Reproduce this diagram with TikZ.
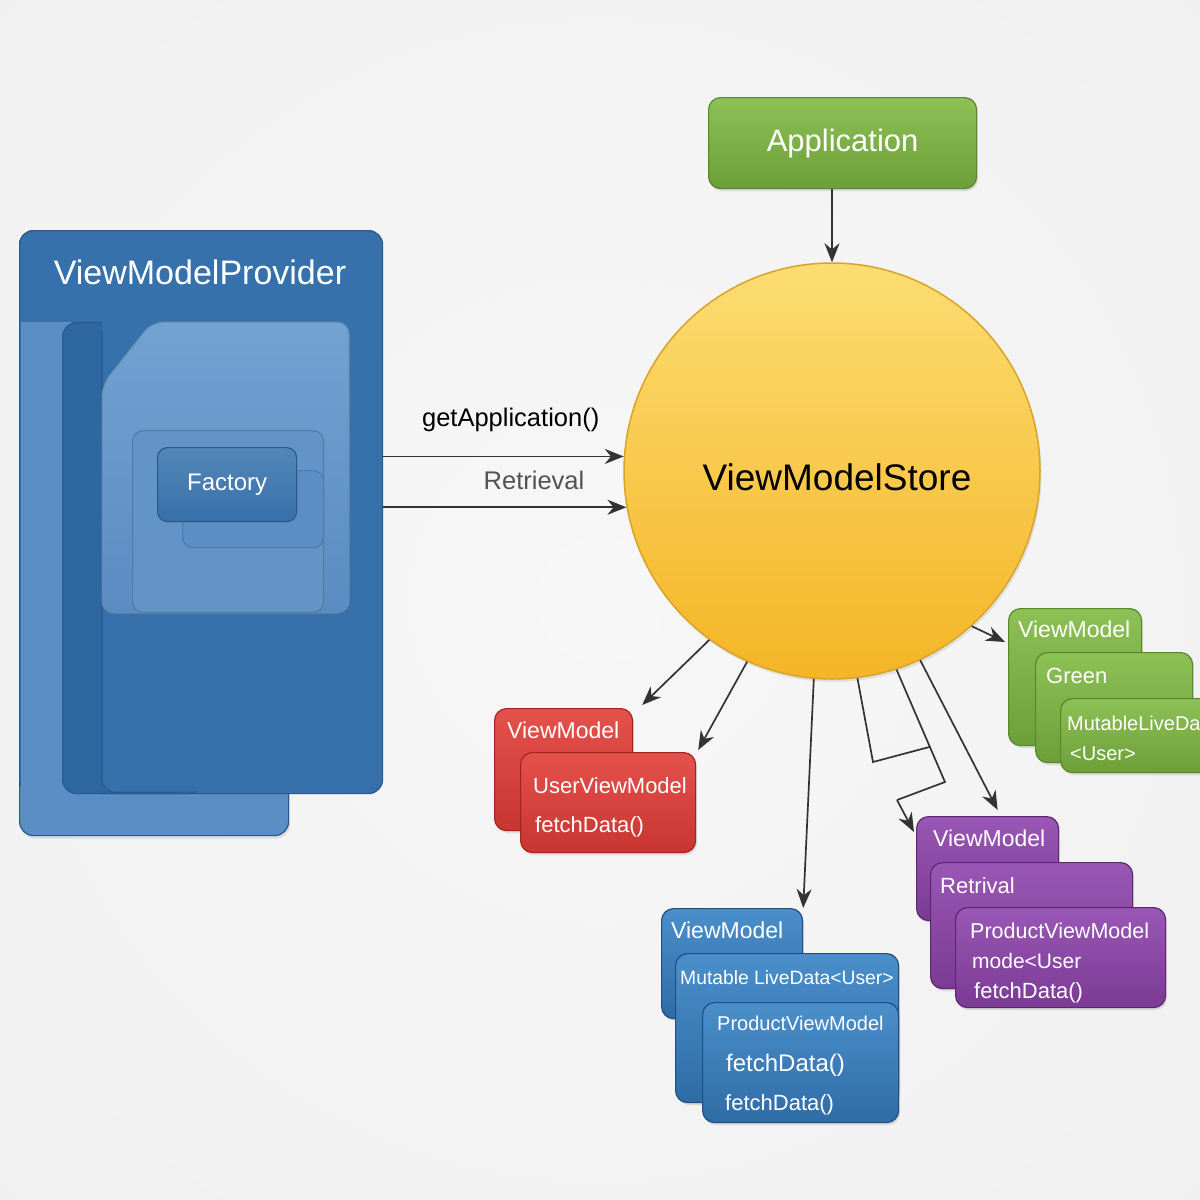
\documentclass[tikz,border=0pt]{standalone}
\usepackage{fontspec}
\setmainfont{Liberation Sans}
\usetikzlibrary{arrows.meta,shadows,calc}

\definecolor{bgin}{HTML}{F7F7F7}
\definecolor{bgout}{HTML}{F0F0F0}
\definecolor{ink}{HTML}{333333}
\definecolor{grntop}{HTML}{8DC156}
\definecolor{grnbot}{HTML}{6C9F38}
\definecolor{grnline}{HTML}{57862C}
\definecolor{yeltop}{HTML}{FCDD72}
\definecolor{yelbot}{HTML}{F4B526}
\definecolor{yelline}{HTML}{D9A32A}
\definecolor{redtop}{HTML}{E4524C}
\definecolor{redbot}{HTML}{C93531}
\definecolor{redline}{HTML}{A3231F}
\definecolor{purtop}{HTML}{9A57B5}
\definecolor{purbot}{HTML}{7B3A94}
\definecolor{purline}{HTML}{5C2671}
\definecolor{blutop}{HTML}{4A8FCB}
\definecolor{blubot}{HTML}{2F6CA6}
\definecolor{bluline}{HTML}{1F4F82}
\definecolor{provdarkc}{HTML}{3671AB}
\definecolor{provmidc}{HTML}{2F67A1}
\definecolor{provlightc}{HTML}{5B8EC4}
\definecolor{provline}{HTML}{28598C}
\definecolor{cardtop}{HTML}{72A2D2}
\definecolor{cardbot}{HTML}{5A8CC2}

\tikzset{
  box/.style={anchor=north west, rounded corners=12pt, line width=1.2pt, inner sep=0pt,
    drop shadow={opacity=0.22, shadow xshift=1.5pt, shadow yshift=-2.5pt}},
  redbox/.style={box, draw=redline, top color=redtop, bottom color=redbot},
  grnbox/.style={box, draw=grnline, top color=grntop, bottom color=grnbot},
  purbox/.style={box, draw=purline, top color=purtop, bottom color=purbot},
  blubox/.style={box, draw=bluline, top color=blutop, bottom color=blubot},
  provbox/.style={anchor=north west, rounded corners=14pt, line width=1.2pt, inner sep=0pt, draw=provline},
  lbl/.style={anchor=base west, inner sep=0pt, text=white, font=\fontsize{22}{26}\selectfont},
  flow/.style={draw=ink, line width=1.7pt, -{Stealth[length=19pt,width=15pt]}},
  wire/.style={draw=ink, line width=1.7pt},
}

\begin{document}
\begin{tikzpicture}[x=1pt,y=-1pt]
\path[use as bounding box] (0,0) rectangle (1200,1200);
\clip (0,0) rectangle (1200,1200);
\fill[inner color=bgin, outer color=bgout] (-300,-300) rectangle (1500,1500);

% ViewModelProvider
\node[provbox, fill=provlightc, minimum width=269pt, minimum height=605pt,
  drop shadow={opacity=0.2, shadow xshift=1.5pt, shadow yshift=-3pt}] (provback) at (19,230) {};
\node[provbox, fill=provdarkc, minimum width=363pt, minimum height=563pt] (prov) at (19,230) {};
\fill[provlightc] (20.6,322) rectangle (100,800);
\node[provbox, fill=provmidc, minimum width=140pt, minimum height=471pt] (provmid) at (62,322) {};
\fill[provdarkc, rounded corners=13pt] (102,300) rectangle (380.4,791.4);
\draw[provline, line width=1.2pt, rounded corners=14pt] (102,330) -- (102,793) -- (180,793);
\draw[provline!70, line width=1pt, top color=cardtop, bottom color=cardbot, rounded corners=12pt]
  (102,613) -- (102,385) -- (152,322) -- (349,322) -- (349,613) -- cycle;
\node[provbox, rounded corners=11pt, draw=provline!80, fill=provlightc!95!white, minimum width=191pt, minimum height=182pt] (provinner) at (132,430) {};
\node[provbox, rounded corners=10pt, draw=provline!80, fill=provlightc, minimum width=141pt, minimum height=77pt] (factback) at (182,470) {};
\node[provbox, rounded corners=10pt, draw=provline, top color=provdarkc!85!white, bottom color=provdarkc, minimum width=139pt, minimum height=74pt,
  text=white, font=\fontsize{24}{28}\selectfont, drop shadow={opacity=0.25, shadow xshift=1pt, shadow yshift=-2pt}] (factory) at (157,447) {Factory};
\node[text=white, font=\fontsize{34}{38}\selectfont] (provtitle) at (200,272) {ViewModelProvider};

% Application and ViewModelStore
\node[box, draw=grnline, top color=grntop, bottom color=grnbot, minimum width=268pt, minimum height=91pt,
  text=white, font=\fontsize{31}{35}\selectfont] (app) at (708,97) {Application};
\node[circle, draw=yelline, line width=1.5pt, top color=yeltop, bottom color=yelbot, minimum size=416pt,
  drop shadow={opacity=0.18, shadow xshift=1.5pt, shadow yshift=-3pt}] (store) at (832,471) {};
\node[font=\fontsize{37}{41}\selectfont] (storeT) at (837,477) {ViewModelStore};

% red
\node[redbox, minimum width=138pt, minimum height=122pt] (redvm) at (494,708) {};
\node[redbox, minimum width=175pt, minimum height=100pt] (redusr) at (520,752) {};
\node[lbl, font=\fontsize{23}{27}\selectfont] (redvmT) at (507,738) {ViewModel};
\node[lbl] (redusrT) at (533,793) {UserViewModel};
\node[lbl] (redfetch) at (535,832) {fetchData()};

% green
\node[grnbox, minimum width=133pt, minimum height=137pt] (grnvm) at (1008,608) {};
\node[grnbox, minimum width=157pt, minimum height=110pt] (grngrn) at (1035,652) {};
\node[grnbox, minimum width=170pt, minimum height=74pt] (grnlive) at (1060,698) {};
\node[lbl, font=\fontsize{23}{27}\selectfont] (grnvmT) at (1018,637) {ViewModel};
\node[lbl] (grngrnT) at (1046,683) {Green};
\node[lbl, font=\fontsize{20}{24}\selectfont] (grnliveT) at (1067,730) {MutableLiveData};
\node[lbl, font=\fontsize{20}{24}\selectfont] (grnuser) at (1070,760) {<User>};

% purple
\node[purbox, minimum width=142pt, minimum height=104pt] (purvm) at (916,816) {};
\node[purbox, minimum width=202pt, minimum height=126pt] (purret) at (930,862) {};
\node[purbox, minimum width=210pt, minimum height=100pt] (purprod) at (955,907) {};
\node[lbl, font=\fontsize{23}{27}\selectfont] (purvmT) at (933,846) {ViewModel};
\node[lbl] (purretT) at (940,893) {Retrival};
\node[lbl, font=\fontsize{21.5}{25}\selectfont] (purprodT) at (970,938) {ProductViewModel};
\node[lbl, font=\fontsize{21}{25}\selectfont] (purmode) at (972,968) {mode<User};
\node[lbl] (purfetch) at (974,998) {fetchData()};

% blue
\node[blubox, minimum width=141pt, minimum height=110pt] (bluvm) at (661,908) {};
\node[blubox, minimum width=223pt, minimum height=149pt] (blulive) at (675,953) {};
\node[blubox, minimum width=196pt, minimum height=120pt] (bluprod) at (702,1002) {};
\node[lbl, font=\fontsize{23}{27}\selectfont] (bluvmT) at (671,938) {ViewModel};
\node[lbl, font=\fontsize{19.3}{23}\selectfont] (bluliveT) at (680,984) {Mutable LiveData<User>};
\node[lbl, font=\fontsize{20}{24}\selectfont] (bluprodT) at (717,1030) {ProductViewModel};
\node[lbl, font=\fontsize{24}{28}\selectfont] (blufetchA) at (726,1071) {fetchData()};
\node[lbl] (blufetchB) at (725,1110) {fetchData()};

% connectors
\draw[flow] (app.south -| store.north) -- (store.north);
\draw[flow] (prov.east |- store.176) -- (store.176)
  node[pos=0.53, above=24pt, inner sep=0pt, text=black, font=\fontsize{25.5}{29}\selectfont] (getapp) {getApplication()};
\draw[flow] (prov.east |- store.190.5) -- (store.190.5)
  node[pos=0.62, above=17pt, inner sep=0pt, text=black!68, font=\fontsize{25.5}{29}\selectfont] (retrlbl) {Retrieval};
\draw[flow] (store.234.4) -- ([xshift=9pt,yshift=3pt]redvm.north east);
\draw[flow] (store.246) -- ([xshift=2pt,yshift=2pt]redusr.north east);
\draw[flow] (store.265.6) -- (bluvm.north east);
\draw[flow] (store.312.5) -- ([xshift=-3pt,yshift=-34pt]grnvm.north west);
\draw[flow] (store.295.5) -- ([xshift=10pt,yshift=6pt]purvm.north);
\coordinate (bendA) at (945,782);
\coordinate (bendB) at (897,800);
\draw[wire] (store.277.7) -- (873,762) -- ($(store.288.3)!0.6875!(bendA)$);
\draw[wire, line join=miter] (store.288.3) -- (bendA) -- (bendB);
\draw[flow] (bendB) -- ([xshift=-2pt,yshift=-16pt]purvm.north west);
\end{tikzpicture}
\end{document}
